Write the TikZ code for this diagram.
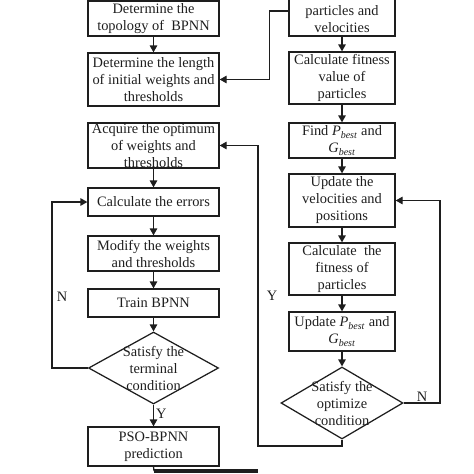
\documentclass[tikz,border=0pt]{standalone}
\usepackage{fontspec}
\setmainfont{Liberation Serif}
\usetikzlibrary{arrows.meta,shapes.geometric}
\newcommand\Pbst{\textit{P}\textsubscript{\textit{best}}}
\newcommand\Gbst{\textit{G}\textsubscript{\textit{best}}}
\definecolor{linec}{HTML}{1E1E1E}
\tikzset{
  txt/.style={font=\fontsize{14.4}{17}\selectfont, text=linec},
  box/.style={draw=linec, line width=1.25pt, rectangle, inner sep=0pt, align=center, txt},
  lbox/.style={box, minimum width=131pt},
  rbox/.style={box, minimum width=106pt},
  dec/.style={draw=linec, line width=1.25pt, diamond, inner sep=0pt},
  arr/.style={draw=linec, line width=1.25pt, -{Triangle[length=7pt,width=7.5pt]}},
  con/.style={draw=linec, line width=1.25pt}
}
\begin{document}
\begin{tikzpicture}[x=1pt,y=-1pt]
\useasboundingbox (0,0) rectangle (474,474);
% left column
\node[lbox, minimum height=35pt] (L1) at (153.5,18.5) {Determine the\\topology of~ BPNN};
\node[lbox, minimum height=53pt] (L2) at (153.5,79.5) {Determine the length\\of initial weights and\\thresholds};
\node[lbox, minimum height=45pt] (L3) at (153.5,145.5) {Acquire the optimum\\of weights and\\thresholds};
\node[lbox, minimum height=28pt] (L4) at (153.5,202) {Calculate the errors};
\node[lbox, minimum height=35pt] (L5) at (153.5,253.5) {Modify the weights\\and thresholds};
\node[lbox, minimum height=28pt] (L6) at (153.5,303) {Train BPNN};
\node[dec, minimum width=130pt, minimum height=72pt,
      label={[txt, align=center]center:Satisfy the\\terminal\\condition}] (D1) at (153.5,368) {};
\node[lbox, minimum height=39pt] (L7) at (153.5,446.5) {PSO-BPNN\\prediction};
% right column
\node[rbox, minimum height=52pt,
      label={[txt, align=center, yshift=-9.5pt]center:particles and\\velocities}] (R1) at (342,10) {};
\node[rbox, minimum height=52pt] (R2) at (342,78) {Calculate fitness\\value of\\particles};
\node[rbox, minimum height=35pt] (R3) at (342,140.5) {Find \Pbst{} and\\\Gbst};
\node[rbox, minimum height=53pt] (R4) at (342,200.5) {Update the\\velocities and\\positions};
\node[rbox, minimum height=52pt] (R5) at (342,269) {Calculate~ the\\fitness of\\particles};
\node[rbox, minimum height=39pt] (R6) at (342,331.5) {Update \Pbst{} and\\\Gbst};
\node[dec, minimum width=122pt, minimum height=72pt,
      label={[txt, align=center]center:Satisfy the\\optimize\\condition}] (D2) at (342,403) {};
% left arrows
\draw[arr] (L1) -- (L2);
\draw[arr] (L3) -- (L4);
\draw[arr] (L4) -- (L5);
\draw[arr] (L5) -- (L6);
\draw[arr] (L6) -- (D1);
\draw[arr] (D1) -- node[txt, right, pos=0.4, inner sep=2pt] (yl) {Y} (L7);
\draw[arr] (D1.west) -- (52,368) |- (L4.west);
\node[txt] (nl) at (62,297) {N};
% right arrows
\draw[arr] (R1) -- (R2);
\draw[arr] (R2) -- (R3);
\draw[arr] (R3) -- (R4);
\draw[arr] (R4) -- (R5);
\draw[arr] (R5) -- (R6);
\draw[arr] (R6) -- (D2);
\draw[arr] (D2.east) -- (440,403) |- (R4.east);
\node[txt] (nr) at (422,397) {N};
\draw[arr] (D2.south) |- (258,446) |- (L3.east);
\node[txt] (yr) at (272,296) {Y};
\draw[arr] ([yshift=-1pt]R1.west) -- ++(-19,0) |- (L2.east);
% bottom exit
\coordinate (bend) at (154,471);
\draw[con] (L7.south) -- (bend);
\draw[draw=linec, line width=3.5pt] (bend) -- (258,471);
\end{tikzpicture}
\end{document}
